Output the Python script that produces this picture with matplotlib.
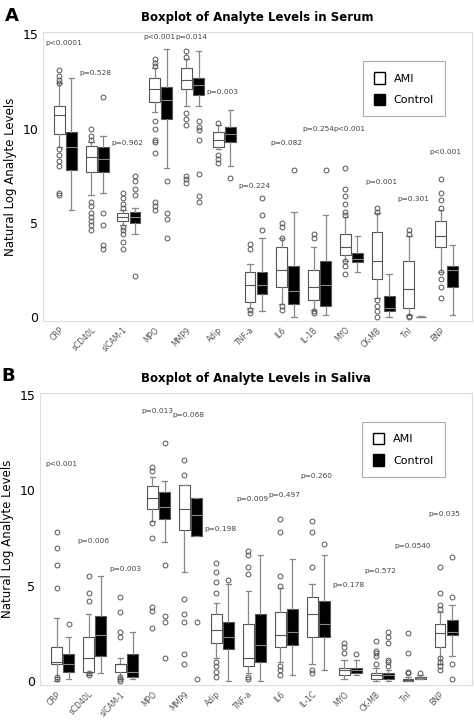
import matplotlib
matplotlib.use("Agg")
import matplotlib.pyplot as plt
import numpy as np
from matplotlib.patches import Patch

serum_names = ["CRP", "sCD40L", "sICAM-1", "MPO", "MMP9", "Adip", "TNF-a",
               "IL6", "IL-1B", "MYO", "CK-MB", "TnI", "BNP"]
saliva_names = ["CRP", "sCD40L", "sICAM-1", "MPO", "MMP9", "Adip", "TNF-a",
                "IL6", "IL-1C", "MYO", "CK-MB", "TnI", "BNP"]

# (q1, median, q3, whisker low, whisker high)
serum_ami = [(9.7, 10.7, 11.2, 9.0, 12.4), (7.7, 8.5, 9.1, 6.5, 9.3), (5.1, 5.3, 5.5, 4.9, 5.7),
             (11.4, 12.1, 12.7, 10.9, 13.2), (12.1, 12.6, 13.2, 11.2, 13.7), (9.0, 9.4, 9.8, 8.9, 10.2),
             (0.8, 1.7, 2.4, 0.5, 2.8), (1.6, 2.5, 3.7, 0.7, 4.2), (0.9, 1.6, 2.5, 0.4, 3.7),
             (3.3, 3.7, 4.4, 3.0, 5.3), (2.0, 3.0, 4.5, 1.0, 5.5), (0.5, 1.5, 3.0, 0.1, 4.3),
             (3.7, 4.3, 5.1, 2.4, 5.7)]
serum_ctl = [(7.8, 9.0, 9.8, 5.7, 12.7), (7.7, 8.4, 9.0, 6.6, 9.6), (5.0, 5.3, 5.6, 4.4, 5.8),
             (10.5, 11.5, 12.2, 7.9, 14.2), (11.8, 12.3, 12.7, 11.2, 14.1), (9.3, 9.7, 10.1, 8.0, 11.0),
             (1.2, 1.7, 2.4, 0.3, 4.2), (0.7, 1.4, 2.7, 0.0, 5.6), (0.6, 1.7, 3.0, 0.1, 5.4),
             (2.9, 3.1, 3.4, 2.4, 4.3), (0.3, 0.5, 1.1, 0.0, 2.3), (0.0, 0.0, 0.03, 0.0, 0.05),
             (1.6, 2.5, 2.7, 0.1, 3.8)]
serum_ami_out = [[6.5, 6.6, 8.0, 8.3, 8.6, 8.9, 12.4, 12.6, 12.8, 13.1],
                 [4.6, 4.9, 5.1, 5.3, 5.5, 5.9, 6.1, 9.4, 9.6, 10.0],
                 [3.6, 4.0, 4.4, 4.6, 4.8, 5.8, 6.0, 6.3, 6.6],
                 [5.7, 5.9, 6.1, 8.7, 9.3, 9.4, 10.0, 10.4, 13.3, 13.5, 13.7],
                 [7.1, 7.3, 7.5, 10.2, 10.5, 10.8, 13.8, 14.1],
                 [8.2, 8.4, 8.6, 10.3],
                 [0.2, 0.4, 3.6, 3.9],
                 [0.4, 0.6, 4.2, 4.8, 5.0],
                 [0.2, 0.3, 4.2, 4.4],
                 [2.3, 2.7, 3.0, 5.4, 5.6, 6.0, 6.4, 6.8, 7.9],
                 [0.0, 0.3, 0.6, 0.9, 5.6, 5.8],
                 [0.0, 0.05, 4.4, 4.6],
                 [1.0, 1.6, 2.0, 2.4, 5.8, 6.2, 6.6, 7.3]]
serum_ctl_out = [[], [3.6, 3.8, 4.9, 5.5, 11.7], [2.2, 6.5, 6.8, 7.2, 7.5], [4.2, 5.2, 5.5, 7.2],
                 [6.1, 6.4, 7.6, 9.4, 9.9, 10.1, 10.4], [7.4], [4.6, 5.4, 6.3], [7.8], [7.8],
                 [], [], [], []]

saliva_ami = [(0.9, 1.0, 1.8, 0.0, 3.3), (0.5, 1.2, 2.3, 0.3, 3.5), (0.5, 0.9, 0.9, 0.1, 1.2),
              (9.0, 9.6, 10.2, 8.4, 10.7), (7.9, 9.0, 10.3, 5.7, 10.3), (2.0, 2.7, 3.5, 1.2, 4.1),
              (0.8, 1.2, 3.0, 0.4, 4.7), (1.8, 2.4, 3.6, 1.0, 4.9), (2.3, 3.5, 4.4, 0.9, 5.1),
              (0.3, 0.6, 0.7, 0.1, 1.1), (0.1, 0.3, 0.4, 0.0, 0.7), (0.0, 0.05, 0.1, 0.0, 0.2),
              (1.8, 2.5, 3.0, 0.9, 3.6)]
saliva_ctl = [(0.5, 0.9, 1.4, 0.1, 2.3), (1.3, 2.4, 3.4, 0.4, 5.5), (0.2, 0.5, 1.4, 0.1, 2.6),
              (8.5, 9.1, 9.9, 7.3, 10.5), (7.6, 8.7, 9.6, 7.6, 9.6), (1.7, 2.3, 3.1, 0.0, 5.1),
              (1.0, 1.9, 3.5, 0.0, 6.6), (1.9, 2.6, 3.8, 0.3, 6.4), (2.3, 3.0, 4.2, 0.6, 6.6),
              (0.4, 0.6, 0.7, 0.3, 1.1), (0.1, 0.3, 0.4, 0.0, 0.6), (0.1, 0.15, 0.2, 0.1, 0.3),
              (2.4, 2.6, 3.2, 1.3, 4.0)]
saliva_ami_out = [[0.1, 0.2, 4.9, 6.1, 7.0, 7.8], [0.3, 0.4, 4.2, 4.6, 5.5], [0.0, 0.1, 0.2, 2.3, 2.6, 3.6, 4.4],
                  [2.8, 3.7, 3.9, 7.5, 8.3, 11.0, 11.2], [0.9, 1.4, 3.1, 3.5, 4.3, 10.8, 11.6],
                  [0.2, 0.5, 0.8, 1.0, 4.6, 5.2, 5.7, 6.2], [0.1, 0.2, 5.6, 6.0, 6.6, 6.8],
                  [0.3, 0.6, 0.8, 5.0, 5.5, 7.8, 8.5], [0.4, 0.6, 6.0, 7.8, 8.4], [1.5, 1.8, 2.0],
                  [0.9, 1.3, 1.5, 1.6, 2.1], [0.4, 0.5, 1.5, 2.5], [0.6, 0.8, 1.0, 1.2, 3.8, 4.0, 4.6, 6.0]]
saliva_ctl_out = [[3.0], [], [], [1.2, 3.1, 3.4, 6.1, 12.5], [0.1, 3.1], [5.3], [], [], [7.2], [1.4],
                  [0.8, 1.0, 1.1, 2.0, 2.3, 2.6], [0.4], [0.1, 0.9, 4.4, 6.5]]

serum_p = ["p<0.0001", "p=0.528", "p=0.962", "p<0.001", "p=0.014", "p=0.003", "p=0.224",
           "p=0.082", "p=0.254", "p<0.001", "p=0.001", "p=0.301", "p<0.001"]
serum_p_y = [14.4, 12.8, 9.1, 14.7, 14.7, 11.8, 6.8, 9.1, 9.8, 9.8, 7.0, 6.1, 8.6]
saliva_p = ["p<0.001", "p=0.006", "p=0.003", "p=0.013", "p=0.068", "p=0.198", "p=0.009",
            "p=0.497", "p=0.260", "p=0.178", "p=0.572", "p=0.0540", "p=0.035"]
saliva_p_y = [11.2, 7.2, 5.7, 14.0, 13.8, 7.8, 9.4, 9.6, 10.6, 4.9, 5.6, 6.9, 8.6]


def stats(boxes, outs):
    return [dict(q1=b[0], med=b[1], q3=b[2], whislo=b[3], whishi=b[4], fliers=o)
            for b, o in zip(boxes, outs)]


def panel(ax, names, ami, ami_out, ctl, ctl_out, pvals, py, title, letter):
    x = np.arange(len(names))
    common = dict(widths=0.34, showfliers=True, patch_artist=True, manage_ticks=False,
                  whiskerprops=dict(color="#888888", lw=0.9),
                  capprops=dict(color="#888888", lw=0.9),
                  flierprops=dict(marker="o", mfc="none", mec="#555555", ms=3.5, mew=0.7))
    ax.bxp(stats(ami, ami_out), positions=x - 0.19,
           boxprops=dict(facecolor="white", edgecolor="#555555", lw=0.8),
           medianprops=dict(color="#555555", lw=0.8), **common)
    ax.bxp(stats(ctl, ctl_out), positions=x + 0.19,
           boxprops=dict(facecolor="black", edgecolor="#555555", lw=0.8),
           medianprops=dict(color="#888888", lw=0.8), **common)
    for xi, p, y in zip(x, pvals, py):
        ax.text(xi - 0.05, y, p, fontsize=5.3, color="#444444", ha="center", va="bottom")
    ax.set_xlim(-0.7, len(names) - 0.2)
    ax.set_ylim(-0.2, 15.1)
    ax.set_yticks([0, 5, 10, 15])
    ax.set_xticks(x)
    ax.set_xticklabels(names, rotation=45, ha="right", fontsize=5.5, color="#555555")
    ax.tick_params(axis="both", length=0)
    ax.tick_params(axis="y", labelsize=9)
    for s in ax.spines.values():
        s.set_color("#dddddd")
    ax.set_ylabel("Natural Log Analyte Levels", fontsize=8.5)
    ax.set_title(title, fontsize=8.5, fontweight="bold", pad=8)
    ax.text(-0.09, 1.04, letter, transform=ax.transAxes, fontsize=13, fontweight="bold")
    leg = ax.legend(handles=[Patch(fc="white", ec="black", label="AMI"),
                             Patch(fc="black", ec="black", label="Control")],
                    loc="upper right", bbox_to_anchor=(0.95, 0.92), fontsize=8,
                    frameon=True, fancybox=False, edgecolor="#999999", borderpad=1.0,
                    handlelength=1.0, handleheight=1.2, labelspacing=0.9)
    leg.get_frame().set_linewidth(0.8)


fig = plt.figure(figsize=(4.74, 7.21), dpi=100)
ax1 = fig.add_axes([0.091, 0.555, 0.905, 0.40])
ax2 = fig.add_axes([0.085, 0.05, 0.91, 0.405])
panel(ax1, serum_names, serum_ami, serum_ami_out, serum_ctl, serum_ctl_out,
      serum_p, serum_p_y, "Boxplot of Analyte Levels in Serum", "A")
panel(ax2, saliva_names, saliva_ami, saliva_ami_out, saliva_ctl, saliva_ctl_out,
      saliva_p, saliva_p_y, "Boxplot of Analyte Levels in Saliva", "B")
fig.savefig("out.png", dpi=100)
